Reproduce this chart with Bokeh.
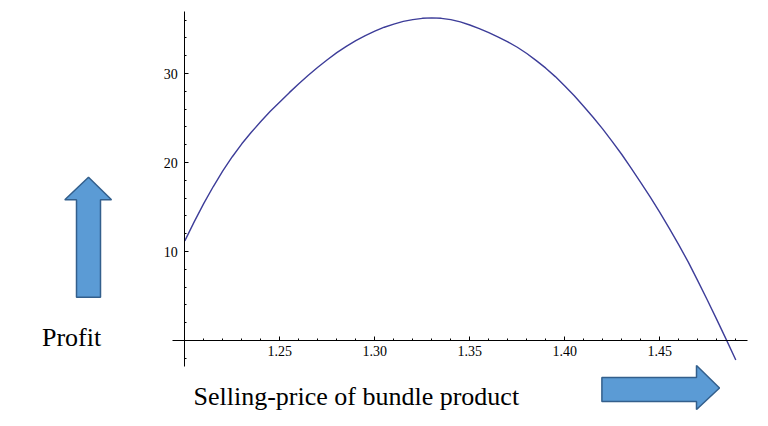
import numpy as np
from bokeh.plotting import figure
from bokeh.models import LinearAxis, FixedTicker, PrintfTickFormatter, Range1d
from bokeh.core.properties import value
from bokeh.embed import file_html
from bokeh.resources import INLINE

# ---------------- data ----------------
price = [1.200, 1.205, 1.210, 1.215, 1.220, 1.225, 1.230, 1.235, 1.240, 1.245,
         1.250, 1.255, 1.260, 1.265, 1.270, 1.275, 1.280, 1.285, 1.290, 1.295,
         1.300, 1.305, 1.310, 1.315, 1.320, 1.325, 1.330, 1.335, 1.340, 1.345,
         1.350, 1.355, 1.360, 1.365, 1.370, 1.375, 1.380, 1.385, 1.390, 1.395,
         1.400, 1.405, 1.410, 1.415, 1.420, 1.425, 1.430, 1.435, 1.440, 1.445,
         1.450, 1.455, 1.460, 1.465, 1.470, 1.475, 1.480, 1.485, 1.490]
profit = [11.2, 13.35, 15.4, 17.3, 19.05, 20.65, 22.1, 23.4, 24.6, 25.75,
          26.8, 27.85, 28.85, 29.8, 30.7, 31.55, 32.35, 33.05, 33.7, 34.25,
          34.75, 35.2, 35.55, 35.85, 36.05, 36.2, 36.25, 36.2, 36.05, 35.8,
          35.45, 35.05, 34.6, 34.1, 33.55, 32.95, 32.25, 31.45, 30.6, 29.65,
          28.6, 27.5, 26.3, 25.05, 23.75, 22.35, 20.9, 19.35, 17.75, 16.1,
          14.4, 12.6, 10.75, 8.8, 6.7, 4.55, 2.35, 0.1, -2.2]

x_major = [1.25, 1.30, 1.35, 1.40, 1.45]
x_minor = [1.21, 1.22, 1.23, 1.24, 1.26, 1.27, 1.28, 1.29, 1.31, 1.32, 1.33, 1.34,
           1.36, 1.37, 1.38, 1.39, 1.41, 1.42, 1.43, 1.44, 1.46, 1.47, 1.48, 1.49]
y_major = [10, 20, 30]
y_minor = [-2, 2, 4, 6, 8, 12, 14, 16, 18, 22, 24, 26, 28, 32, 34, 36]

x_label = "Selling-price of bundle product"
y_label = "Profit"

# ---------------- layout ----------------
W, H = 752, 410
X_ORIGIN_PX = 184.3   # figure px where price = 1.20
Y_ORIGIN_PX = 340.0   # figure px (from top) where profit = 0
PX_PER_X = 1900.0
PX_PER_Y = 8.9


def fx(px):
    return 1.2 + (px - X_ORIGIN_PX) / PX_PER_X


def fy(py):
    return (Y_ORIGIN_PX - py) / PX_PER_Y


p = figure(width=W, height=H,
           x_range=Range1d(fx(0), fx(W)),
           y_range=Range1d(fy(H), fy(0)),
           output_backend="svg", toolbar_location=None,
           x_axis_location=None, y_axis_location=None,
           min_border=0, outline_line_color=None)
p.background_fill_color = "white"
p.border_fill_color = "white"
for g in p.grid:
    g.visible = False

font = "Liberation Serif"

xaxis = LinearAxis(fixed_location=0,
                   ticker=FixedTicker(ticks=x_major, minor_ticks=x_minor),
                   formatter=PrintfTickFormatter(format="%.2f"),
                   bounds=(fx(172.3), fx(746.7)))
yaxis = LinearAxis(fixed_location=1.2,
                   ticker=FixedTicker(ticks=y_major, minor_ticks=y_minor),
                   bounds=(fy(366), fy(11)))
for ax in (xaxis, yaxis):
    ax.axis_line_color = "black"
    ax.axis_line_width = 1
    ax.major_tick_in = 4
    ax.major_tick_out = 0
    ax.minor_tick_in = 2
    ax.minor_tick_out = 0
    ax.major_tick_line_color = "black"
    ax.minor_tick_line_color = "black"
    ax.major_label_text_font = font
    ax.major_label_text_font_size = "14px"
    ax.major_label_text_color = "black"
xaxis.major_label_standoff = 5
yaxis.major_label_standoff = 7
p.add_layout(xaxis, "below")
p.add_layout(yaxis, "left")

# curve
p.line(price, profit, line_color="#3d3d99", line_width=1.4)

# decorative arrows
arrow_fill = "#5b9bd5"
arrow_line = "#335f8c"
up_x = [fx(88), fx(111), fx(100), fx(100), fx(76), fx(76), fx(64.3)]
up_y = [fy(176.7), fy(199.3), fy(199.3), fy(296.7), fy(296.7), fy(199.3), fy(199.3)]
rt_x = [fx(601.4), fx(696), fx(696), fx(719), fx(696), fx(696), fx(601.4)]
rt_y = [fy(377), fy(377), fy(365), fy(387.5), fy(409), fy(401), fy(401)]
p.patch(up_x, up_y, fill_color=arrow_fill, line_color=arrow_line, line_width=1.5)
p.patch(rt_x, rt_y, fill_color=arrow_fill, line_color=arrow_line, line_width=1.5)

p.text(x=[fx(41.5), fx(193)], y=[fy(336.7), fy(396)], text=[y_label, x_label],
       text_font=value(font), text_font_size="26px", text_color="black",
       text_baseline="alphabetic", text_align="left")

open("out.html", "w").write(file_html(p, INLINE))
